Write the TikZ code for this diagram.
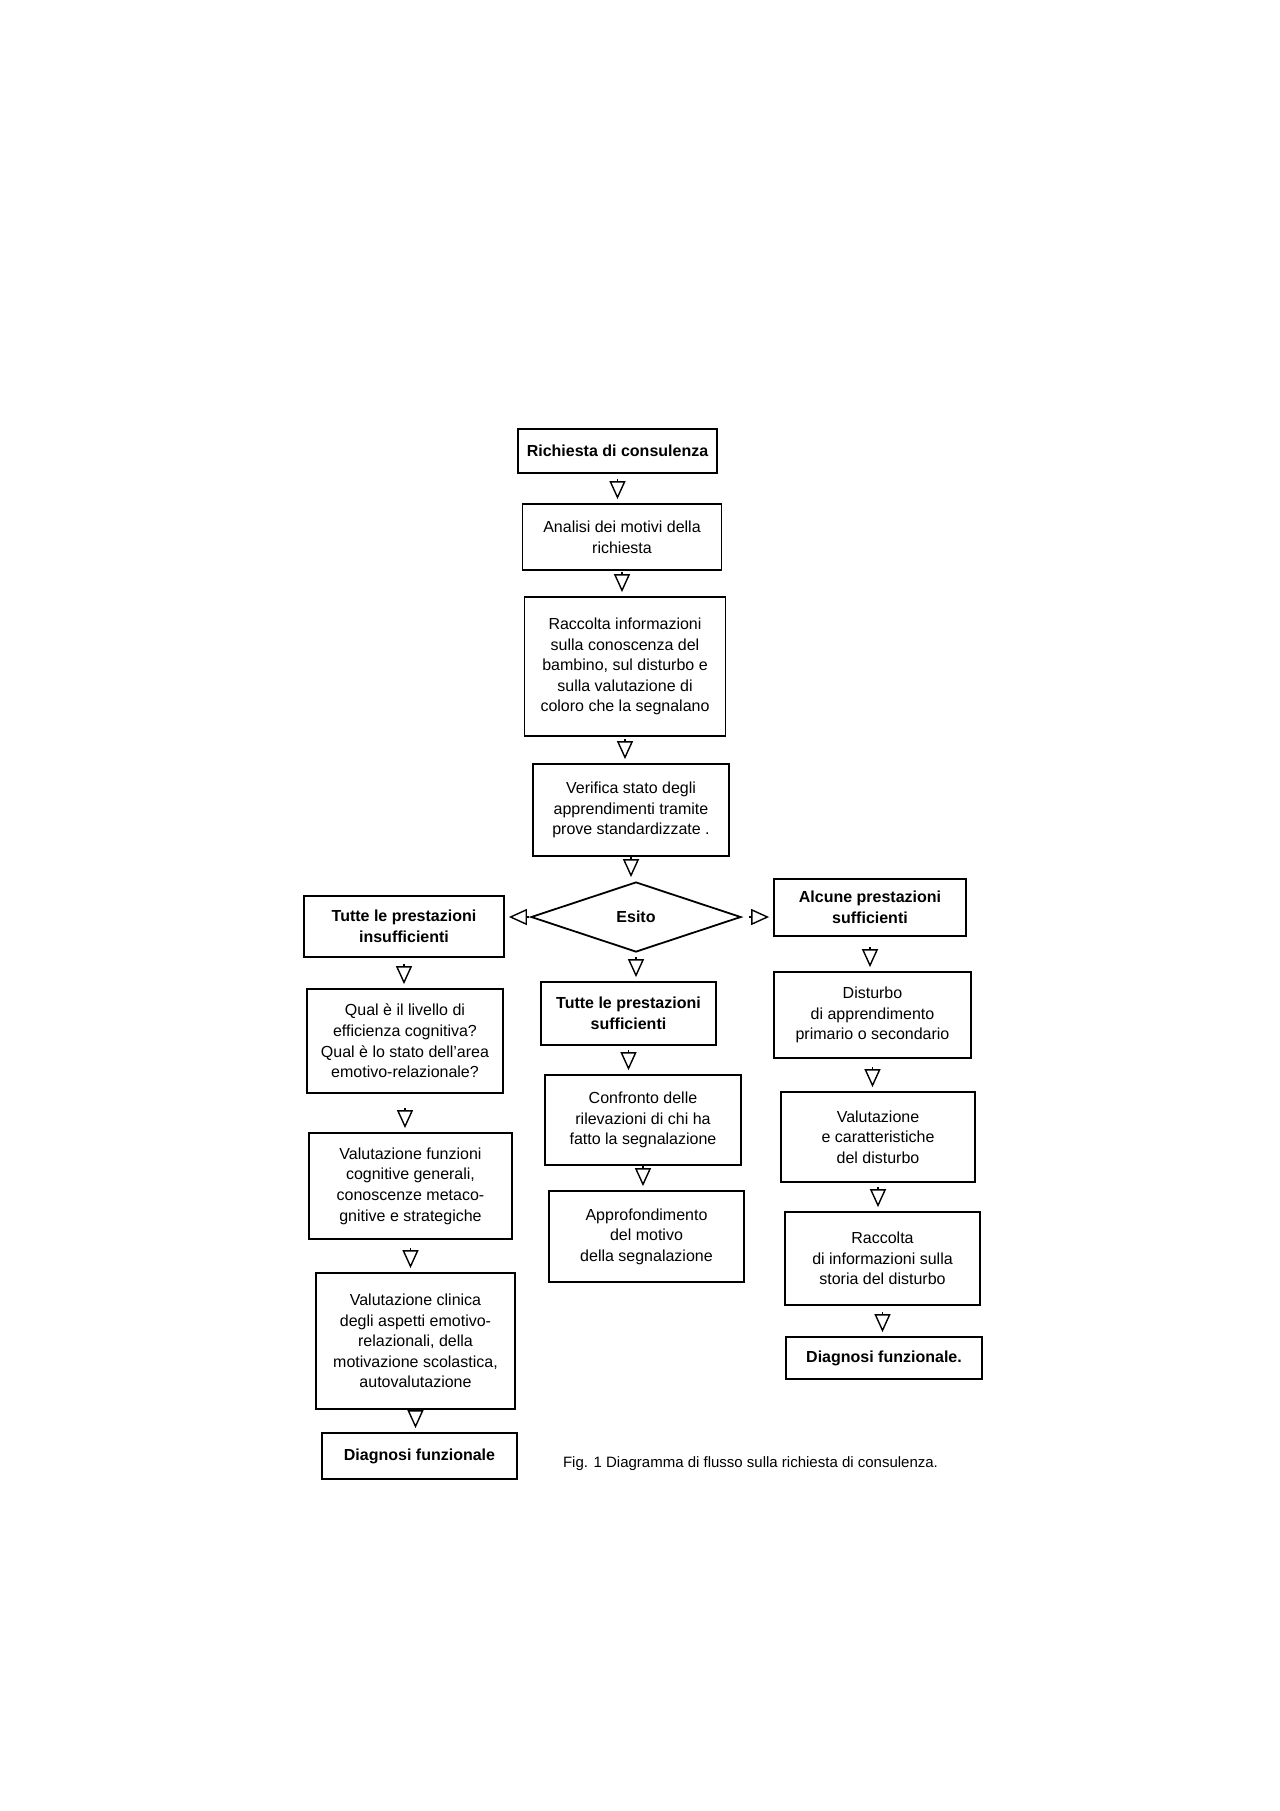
\documentclass[tikz,border=0pt]{standalone}
\usepackage{fontspec}
\setmainfont{Liberation Sans}
\usetikzlibrary{shapes.geometric,arrows.meta,calc}
\tikzset{
 bx/.style 2 args={draw, line width=0.9pt, minimum width=#1pt, minimum height=#2pt, align=center, inner sep=2pt, font=\fontsize{8}{10.3}\selectfont},
 bb/.style={font=\fontsize{8}{10.3}\selectfont\bfseries},
 arr/.style={line width=0.7pt, shorten >=2pt, -{Triangle[open,length=9pt,width=8pt]}}
}
\newcommand{\vflow}[2]{\draw[arr] ($(#1.south |- #2.north)+(0,-24)$) -- (#1.south |- #2.north);}
\begin{document}
\begin{tikzpicture}[x=0.5pt,y=-0.5pt]
\useasboundingbox (0,0) rectangle (1280,1811);
\node[bx={99.5}{22},bb] (b1) at (617.5,451) {Richiesta di consulenza};
\node[bx={99.5}{33}] (b2) at (622,537) {Analisi dei motivi della\\richiesta};
\node[bx={100.5}{69.5}] (b3) at (625,666.5) {Raccolta informazioni\\sulla conoscenza del\\bambino, sul disturbo e\\sulla valutazione di\\coloro che la segnalano};
\node[bx={98}{46}] (b4) at (631,810) {Verifica stato degli\\apprendimenti tramite\\prove standardizzate .};
\node[draw, line width=0.9pt, diamond, minimum width=105pt, minimum height=35pt, inner sep=0pt, bb] (d) at (636,917) {Esito};
\node[bx={100}{30.5},bb] (L1) at (404,926.5) {Tutte le prestazioni\\insufficienti};
\node[bx={96}{28.5},bb] (R1) at (870,907.5) {Alcune prestazioni\\sufficienti};
\node[bx={98}{52}] (L2) at (405,1041) {Qual è il livello di\\efficienza cognitiva?\\Qual è lo stato dell'area\\emotivo-relazionale?};
\node[bx={87.5}{31.5},bb] (M1) at (628.5,1013.5) {Tutte le prestazioni\\sufficienti};
\node[bx={98.5}{43}] (R2) at (872.5,1015) {Disturbo\\di apprendimento\\primario o secondario};
\node[bx={98}{45}] (M2) at (643,1120) {Confronto delle\\rilevazioni di chi ha\\fatto la segnalazione};
\node[bx={97}{45}] (R3) at (878,1137) {Valutazione\\e caratteristiche\\del disturbo};
\node[bx={101.5}{53}] (L3) at (410.5,1186) {Valutazione funzioni\\cognitive generali,\\conoscenze metaco-\\gnitive e strategiche};
\node[bx={97.5}{45.5}] (M3) at (646.5,1236.5) {Approfondimento\\del motivo\\della segnalazione};
\node[bx={97.5}{46.5}] (R4) at (882.5,1258.5) {Raccolta\\di informazioni sulla\\storia del disturbo};
\node[bx={99.5}{68}] (L4) at (415.5,1341) {Valutazione clinica\\degli aspetti emotivo-\\relazionali, della\\motivazione scolastica,\\autovalutazione};
\node[bx={98}{21},bb] (R5) at (884,1358) {Diagnosi funzionale.};
\node[bx={97.5}{23},bb] (L5) at (419.5,1456) {Diagnosi funzionale};
\node[font=\fontsize{7.5}{9}\selectfont, anchor=west] (cap) at (556,1464) {Fig. 1 Diagramma di flusso sulla richiesta di consulenza.};
\vflow{b1}{b2}
\vflow{b2}{b3}
\vflow{b3}{b4}
\vflow{b4}{d}
\vflow{d}{M1}
\draw[arr] ($(d.west -| L1.east)+(24,0)$) -- (d.west -| L1.east);
\draw[arr] ($(d.east -| R1.west)+(-24,0)$) -- (d.east -| R1.west);
\vflow{L1}{L2}
\vflow{L2}{L3}
\vflow{L3}{L4}
\vflow{L4}{L5}
\vflow{M1}{M2}
\vflow{M2}{M3}
\vflow{R1}{R2}
\vflow{R2}{R3}
\vflow{R3}{R4}
\vflow{R4}{R5}
\end{tikzpicture}
\end{document}
